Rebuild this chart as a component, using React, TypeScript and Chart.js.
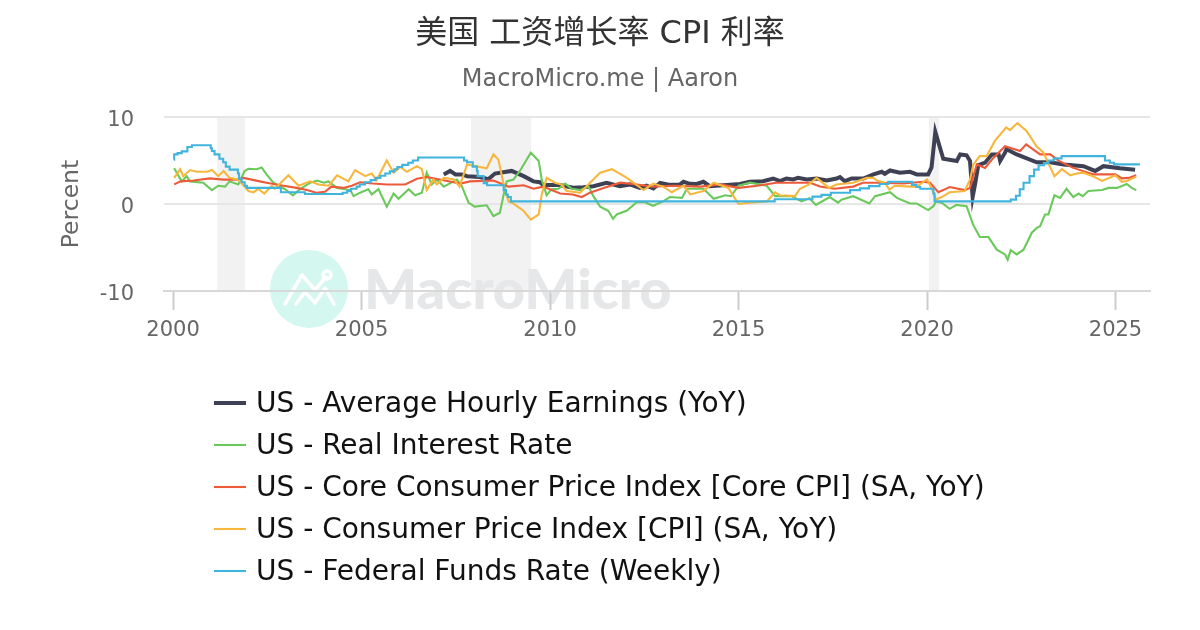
import { useEffect, useRef } from 'react';
import { Chart, registerables } from 'chart.js';

Chart.register(...registerables);

const FONT = '"DejaVu Sans", "Noto Sans CJK SC", sans-serif';

const seriesNames = [
  'US - Average Hourly Earnings (YoY)',
  'US - Real Interest Rate',
  'US - Core Consumer Price Index [Core CPI] (SA, YoY)',
  'US - Consumer Price Index [CPI] (SA, YoY)',
  'US - Federal Funds Rate (Weekly)',
];
const seriesColors = ['#3e4153', '#6bc95c', '#ec5a3a', '#f7b63c', '#41b4dd'];
const seriesWidths = [4, 2.1, 2.1, 2.1, 2.1];

// [year, percent]
const earnings = [
  [2007.18, 3.4], [2007.35, 3.8], [2007.49, 3.4], [2007.66, 3.4], [2007.8, 3.2], [2008.14, 3.1], [2008.36, 2.85],
  [2008.54, 3.5], [2008.98, 3.8], [2009.3, 3.2], [2009.56, 2.6], [2009.73, 2.5], [2009.82, 2.17], [2010.26, 2.17],
  [2010.61, 1.86], [2010.88, 1.93], [2011.15, 2.05], [2011.5, 2.43], [2011.85, 2.05], [2012.12, 2.25], [2012.38, 1.86],
  [2012.56, 2.1], [2012.74, 1.78], [2012.92, 2.43], [2013.18, 2.2], [2013.45, 2.25], [2013.54, 2.55], [2013.71, 2.32],
  [2013.89, 2.3], [2014.07, 2.55], [2014.24, 2.05], [2014.77, 2.2], [2015.04, 2.3], [2015.3, 2.55], [2015.65, 2.62],
  [2015.92, 2.93], [2016.1, 2.62], [2016.27, 2.93], [2016.45, 2.82], [2016.58, 3.0], [2016.81, 2.82], [2017.07, 2.93],
  [2017.34, 2.7], [2017.6, 2.93], [2017.69, 3.09], [2017.82, 2.62], [2018, 2.93], [2018.31, 2.93], [2018.58, 3.4],
  [2018.8, 3.7], [2018.88, 3.47], [2019.02, 3.85], [2019.28, 3.59], [2019.55, 3.7], [2019.73, 3.4], [2020.03, 3.4],
  [2020.12, 4.2], [2020.22, 8.3], [2020.43, 5.2], [2020.79, 4.95], [2020.88, 5.7], [2021.05, 5.6], [2021.14, 4.95],
  [2021.21, 0.8], [2021.28, 2.4], [2021.36, 4.45], [2021.54, 4.75], [2021.72, 5.7], [2021.9, 5.7], [2021.94, 4.95],
  [2022.07, 5.9], [2022.11, 6.3], [2022.38, 5.7], [2022.91, 4.8], [2023.27, 4.8], [2023.62, 4.55], [2024.15, 4.35],
  [2024.46, 3.8], [2024.68, 4.35], [2025.12, 4.1], [2025.52, 3.95],
];

const realRate = [
  [2000.03, 4.1], [2000.23, 2.6], [2000.36, 3.2], [2000.45, 2.6], [2000.8, 2.45], [2001.03, 1.6], [2001.2, 2.1],
  [2001.38, 2.0], [2001.5, 2.6], [2001.73, 2.25], [2001.9, 3.8], [2002, 4.05], [2002.22, 4.0], [2002.35, 4.2],
  [2002.48, 3.4], [2002.66, 2.45], [2002.97, 1.7], [2003.18, 1.0], [2003.37, 1.7], [2003.64, 2.45], [2003.82, 2.7],
  [2004, 2.45], [2004.12, 2.6], [2004.35, 1.85], [2004.57, 1.7], [2004.7, 1.6], [2004.79, 0.9], [2004.96, 1.3],
  [2005.18, 1.7], [2005.27, 1.1], [2005.45, 1.7], [2005.67, -0.3], [2005.85, 1.2], [2005.98, 0.6], [2006.25, 1.7],
  [2006.42, 1.0], [2006.6, 1.3], [2006.73, 3.6], [2006.86, 2.25], [2007, 2.8], [2007.18, 2.0], [2007.53, 2.8],
  [2007.66, 2.05], [2007.84, 0.15], [2008, -0.3], [2008.32, -0.15], [2008.5, -1.4], [2008.67, -1.0], [2008.76, 0.9],
  [2008.85, 2.6], [2009.03, 2.8], [2009.2, 3.8], [2009.49, 5.9], [2009.7, 4.95], [2009.78, 2.8], [2009.91, 1.0],
  [2010.04, 1.7], [2010.22, 1.75], [2010.4, 2.35], [2010.58, 1.75], [2010.8, 1.6], [2011.02, 2.0], [2011.15, 0.9],
  [2011.33, -0.3], [2011.55, -0.8], [2011.67, -1.7], [2011.77, -1.2], [2012.04, -0.75], [2012.3, 0.2], [2012.52, 0.2],
  [2012.73, -0.2], [2013, 0.3], [2013.18, 0.8], [2013.5, 0.7], [2013.63, 1.75], [2014.07, 1.75], [2014.34, 0.6],
  [2014.65, 1.0], [2014.8, 0.9], [2015, 2.1], [2015.3, 2.45], [2015.75, 2.1], [2015.97, 0.9], [2016.4, 0.9],
  [2016.67, 0.3], [2016.88, 0.65], [2017.05, -0.1], [2017.42, 0.8], [2017.64, 0.15], [2017.73, 0.5], [2018.04, 0.9],
  [2018.47, 0.05], [2018.62, 0.9], [2019.02, 1.35], [2019.2, 0.7], [2019.55, 0.05], [2019.73, 0.05], [2020.03, -0.7],
  [2020.17, -0.25], [2020.24, 0.3], [2020.39, 0.15], [2020.6, -0.55], [2020.78, -0.1], [2021.05, -0.25], [2021.22, -2.35],
  [2021.4, -3.8], [2021.63, -3.8], [2021.85, -5.25], [2022.07, -5.8], [2022.14, -6.4], [2022.22, -5.3], [2022.38, -5.8],
  [2022.56, -5.25], [2022.78, -3.3], [2022.91, -2.75], [2023, -2.55], [2023.13, -1.2], [2023.22, -1.2], [2023.38, 1.0],
  [2023.53, 0.7], [2023.7, 1.75], [2023.88, 0.8], [2024.02, 1.2], [2024.13, 0.9], [2024.28, 1.5], [2024.64, 1.6],
  [2024.82, 1.85], [2025.04, 1.85], [2025.3, 2.3], [2025.43, 1.85], [2025.55, 1.6],
];

const coreCpi = [
  [2000.03, 2.25], [2000.2, 2.6], [2000.54, 2.7], [2000.98, 2.95], [2001.34, 2.8], [2001.7, 2.8], [2001.87, 3.0],
  [2002.3, 2.6], [2002.48, 2.45], [2002.93, 2.1], [2003.28, 1.85], [2003.55, 1.6], [2003.8, 1.3], [2004.03, 1.4],
  [2004.2, 2.0], [2004.52, 1.85], [2004.74, 2.1], [2004.96, 2.5], [2005.3, 2.35], [2005.67, 2.25], [2006.16, 2.25],
  [2006.47, 2.9], [2006.73, 3.1], [2007.04, 2.85], [2007.44, 2.5], [2007.62, 2.35], [2007.88, 2.6], [2008.5, 2.7],
  [2008.9, 2.0], [2009.3, 2.15], [2009.56, 1.75], [2009.82, 2.0], [2010.04, 1.6], [2010.27, 1.2], [2010.6, 1.1],
  [2010.84, 0.8], [2011.06, 1.3], [2011.42, 1.85], [2011.86, 2.45], [2012.3, 2.25], [2012.74, 2.0], [2013.27, 2.1],
  [2014, 2.0], [2014.5, 2.25], [2015, 1.85], [2015.5, 2.1], [2016, 2.45], [2016.9, 2.45], [2017.16, 2.0],
  [2017.55, 1.75], [2018.04, 2.0], [2018.3, 2.45], [2018.66, 2.45], [2019.37, 2.35], [2019.9, 2.55], [2020.08, 2.45],
  [2020.3, 1.35], [2020.43, 1.6], [2020.6, 1.95], [2021, 1.6], [2021.14, 1.85], [2021.32, 4.55], [2021.54, 4.15],
  [2021.76, 5.3], [2022.07, 6.65], [2022.47, 6.1], [2022.63, 6.85], [2023, 5.7], [2023.27, 5.7], [2023.5, 4.95],
  [2023.88, 4.15], [2024.42, 3.4], [2025, 3.4], [2025.17, 2.95], [2025.35, 3.0], [2025.55, 3.3],
];

const cpi = [
  [2000.03, 3.0], [2000.19, 4.0], [2000.27, 3.2], [2000.45, 3.9], [2000.63, 3.7], [2000.9, 3.7], [2001.03, 3.9],
  [2001.2, 3.2], [2001.34, 3.8], [2001.5, 3.0], [2001.73, 2.8], [2002, 1.5], [2002.13, 1.35], [2002.26, 1.75],
  [2002.42, 1.2], [2002.62, 2.1], [2002.7, 1.75], [2003.06, 3.3], [2003.33, 2.1], [2003.64, 2.6], [2003.86, 2.25],
  [2004.13, 2.1], [2004.35, 3.3], [2004.65, 2.6], [2004.83, 3.9], [2005.1, 3.2], [2005.27, 3.5], [2005.4, 2.75],
  [2005.67, 5.0], [2005.85, 3.6], [2006.03, 4.25], [2006.2, 3.7], [2006.47, 4.35], [2006.6, 4.0], [2006.73, 1.6],
  [2006.9, 2.8], [2007, 2.25], [2007.18, 3.0], [2007.44, 2.85], [2007.6, 2.0], [2007.8, 4.55], [2008.14, 4.25],
  [2008.32, 4.1], [2008.5, 5.7], [2008.63, 5.1], [2008.76, 2.45], [2008.9, 0.3], [2009.03, 0.05], [2009.3, -0.8],
  [2009.49, -1.8], [2009.7, -1.2], [2009.78, 1.1], [2009.91, 3.0], [2010.13, 2.45], [2010.3, 2.25], [2010.44, 1.5],
  [2010.8, 1.3], [2011.06, 2.45], [2011.33, 3.6], [2011.64, 4.0], [2012.04, 3.0], [2012.48, 1.6], [2012.74, 2.35],
  [2013, 2.0], [2013.23, 1.35], [2013.54, 2.1], [2013.72, 1.1], [2014.07, 1.5], [2014.34, 2.45], [2014.73, 1.85],
  [2015, 0], [2015.3, 0.15], [2015.75, 0.3], [2015.97, 1.35], [2016.1, 1.0], [2016.5, 0.9], [2016.63, 1.75],
  [2016.85, 2.2], [2017.07, 3.0], [2017.4, 1.85], [2017.6, 2.25], [2018.04, 2.45], [2018.4, 3.0], [2018.57, 3.0],
  [2018.7, 2.65], [2018.88, 2.45], [2019, 1.65], [2019.15, 2.1], [2019.55, 2.0], [2019.73, 2.0], [2020, 2.85],
  [2020.12, 1.85], [2020.24, 0.5], [2020.39, 0.8], [2020.6, 1.35], [2021, 1.5], [2021.14, 2.8], [2021.23, 4.55],
  [2021.4, 5.5], [2021.58, 5.5], [2021.8, 7.25], [2022.1, 8.8], [2022.2, 8.5], [2022.4, 9.3], [2022.64, 8.4],
  [2022.9, 6.65], [2023.09, 5.9], [2023.38, 3.2], [2023.58, 4.0], [2023.8, 3.3], [2023.97, 3.5], [2024.15, 3.6],
  [2024.42, 3.15], [2024.64, 2.65], [2025, 3.3], [2025.17, 2.55], [2025.3, 2.65], [2025.55, 3.15],
];

// held until the next entry (stepped line)
const fedFunds = [
  [2000.02, 5.1], [2000.03, 5.7], [2000.12, 5.85], [2000.23, 6.05], [2000.38, 6.55], [2000.5, 6.75], [2001.0, 6.4],
  [2001.03, 6.1], [2001.1, 5.7], [2001.23, 5.2], [2001.33, 4.8], [2001.4, 4.3], [2001.5, 3.95], [2001.72, 3.5],
  [2001.75, 2.9], [2001.82, 2.5], [2001.9, 2.1], [2001.96, 1.85], [2002.86, 1.35], [2003.5, 1.15], [2004.5, 1.3],
  [2004.62, 1.5], [2004.72, 1.75], [2004.87, 2.0], [2004.95, 2.25], [2005.09, 2.5], [2005.24, 2.75], [2005.37, 3.0],
  [2005.5, 3.25], [2005.63, 3.5], [2005.75, 3.75], [2005.87, 4.0], [2005.95, 4.25], [2006.08, 4.5], [2006.24, 4.75],
  [2006.36, 5.0], [2006.5, 5.35], [2007.72, 5.0], [2007.8, 4.8], [2007.95, 4.3], [2008.06, 3.8], [2008.08, 3.2],
  [2008.24, 2.4], [2008.33, 2.15], [2008.77, 1.6], [2008.83, 1.1], [2008.88, 0.8], [2008.96, 0.3], [2015.96, 0.55],
  [2016.96, 0.85], [2017.2, 1.05], [2017.45, 1.3], [2017.96, 1.6], [2018.22, 1.8], [2018.46, 2.05], [2018.74, 2.3],
  [2018.97, 2.55], [2019.6, 2.2], [2019.72, 1.95], [2019.82, 1.75], [2020.17, 1.2], [2020.2, 0.3], [2022.22, 0.5],
  [2022.36, 0.95], [2022.46, 1.7], [2022.56, 2.45], [2022.72, 3.2], [2022.84, 3.95], [2022.96, 4.45], [2023.1, 4.7],
  [2023.22, 5.0], [2023.36, 5.25], [2023.57, 5.5], [2024.72, 5.0], [2024.85, 4.75], [2024.96, 4.55], [2025.65, 4.55],
];

const seriesData = [earnings, realRate, coreCpi, cpi, fedFunds];

const recessions = [
  [2001.17, 2001.91],
  [2007.9, 2009.5],
  [2020.05, 2020.32],
];

const xTicks = [2000, 2005, 2010, 2015, 2020, 2025];
const yTicks = [-10, 0, 10];

const backdropPlugin = {
  id: 'backdrop',
  beforeDraw(chart: any) {
    const { ctx, chartArea, scales } = chart;
    ctx.save();
    ctx.fillStyle = '#f2f2f2';
    recessions.forEach(([from, to]) => {
      const x0 = scales.x.getPixelForValue(from);
      const x1 = scales.x.getPixelForValue(to);
      ctx.fillRect(x0, chartArea.top, x1 - x0, chartArea.bottom - chartArea.top);
    });

    // watermark
    ctx.fillStyle = '#d4f7f0';
    ctx.beginPath();
    ctx.arc(309, 289, 39, 0, Math.PI * 2);
    ctx.fill();
    ctx.strokeStyle = '#ffffff';
    ctx.lineWidth = 3.5;
    ctx.lineCap = 'round';
    ctx.lineJoin = 'round';
    ctx.beginPath();
    ctx.moveTo(285, 304);
    ctx.lineTo(302, 275);
    ctx.lineTo(315, 290);
    ctx.lineTo(326, 277);
    ctx.stroke();
    ctx.beginPath();
    ctx.moveTo(296, 304);
    ctx.lineTo(305, 292);
    ctx.lineTo(315, 303);
    ctx.lineTo(325, 288);
    ctx.lineTo(334, 304);
    ctx.stroke();
    ctx.beginPath();
    ctx.arc(327, 275, 4, 0, Math.PI * 2);
    ctx.stroke();
    ctx.fillStyle = '#e6e7e9';
    ctx.font = '900 56px Lato, sans-serif';
    ctx.textAlign = 'left';
    ctx.textBaseline = 'alphabetic';
    ctx.fillText('MacroMicro', 364, 309, 309);
    ctx.restore();
  },
};

const legendPlugin = {
  id: 'sideLegend',
  afterDraw(chart: any) {
    const { ctx } = chart;
    ctx.save();
    ctx.font = `28px ${FONT}`;
    ctx.textAlign = 'left';
    ctx.textBaseline = 'middle';
    seriesNames.forEach((name, i) => {
      const y = 403 + i * 42;
      ctx.strokeStyle = seriesColors[i];
      ctx.lineWidth = seriesWidths[i];
      ctx.beginPath();
      ctx.moveTo(214, y);
      ctx.lineTo(246, y);
      ctx.stroke();
      ctx.fillStyle = '#111111';
      ctx.fillText(name, 256, y + 2);
    });
    ctx.restore();
  },
};

const App = () => {
  const canvasRef = useRef(null as HTMLCanvasElement | null);

  useEffect(() => {
    if (!canvasRef.current) return;
    document.body.style.margin = '0';

    const chart = new Chart(canvasRef.current, {
      type: 'line',
      data: {
        datasets: seriesNames.map((name, i) => ({
          label: name,
          data: seriesData[i].map(([x, y]) => ({ x, y })),
          borderColor: seriesColors[i],
          borderWidth: seriesWidths[i],
          pointRadius: 0,
          tension: 0,
          fill: false,
          stepped: i === 4 ? 'before' : false,
          order: seriesNames.length - i, // later series sit on top
        })),
      },
      options: {
        animation: false,
        responsive: false,
        layout: { padding: { left: 50, right: 50, top: 0, bottom: 0 } },
        plugins: {
          legend: { display: false },
          tooltip: { enabled: false },
          title: {
            display: true,
            text: '美国 工资增长率 CPI 利率',
            color: '#333333',
            font: { family: FONT, size: 32, weight: 'normal' },
            padding: { top: 15, bottom: 12 },
          },
          subtitle: {
            display: true,
            text: 'MacroMicro.me | Aaron',
            color: '#666666',
            font: { family: FONT, size: 24, weight: 'normal' },
            padding: { top: 0, bottom: 22.8 },
          },
        },
        scales: {
          x: {
            type: 'linear',
            min: 1999.76,
            max: 2025.915,
            afterBuildTicks: (scale: any) => {
              scale.ticks = xTicks.map(value => ({ value }));
            },
            afterFit: (scale: any) => {
              scale.height = 339;
            },
            grid: { drawOnChartArea: false, tickLength: 19, tickColor: '#cccccc', tickWidth: 2 },
            border: { color: '#d8d8d8', width: 2 },
            ticks: {
              autoSkip: false,
              maxRotation: 0,
              padding: 8,
              color: '#666666',
              font: { family: FONT, size: 21 },
              callback: (value: any) => String(value),
            },
          },
          y: {
            min: -10,
            max: 10,
            afterBuildTicks: (scale: any) => {
              scale.ticks = yTicks.map(value => ({ value }));
            },
            afterFit: (scale: any) => {
              scale.width = 114;
            },
            grid: { color: '#e6e6e6', lineWidth: 2, drawTicks: false },
            border: { display: false },
            title: {
              display: true,
              text: 'Percent',
              color: '#666666',
              font: { family: FONT, size: 23.5, weight: 'normal' },
              padding: { top: 8, bottom: 0 },
            },
            ticks: {
              padding: 30,
              labelOffset: 3.5,
              color: '#666666',
              font: { family: FONT, size: 21 },
            },
          },
        },
      },
      plugins: [backdropPlugin, legendPlugin],
    } as any);

    return () => {
      chart.destroy();
    };
  }, []);

  return (
    <div style={{ width: 1200, height: 630, background: '#ffffff' }}>
      <canvas ref={canvasRef} width={1200} height={630} style={{ display: 'block' }} />
    </div>
  );
};

export default App;
